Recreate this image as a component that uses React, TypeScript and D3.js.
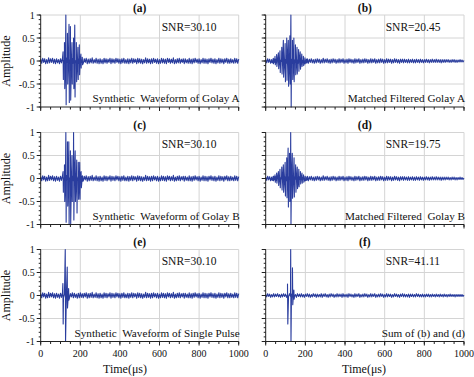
import React from "react";
import * as d3 from "d3";

// ---------- data ----------
const TIME_TICKS = [0, 200, 400, 600, 800, 1000];
const TIME_MINOR = d3.range(0, 1001, 50);
const AMP_TICKS = [1, 0.5, 0, -0.5, -1];
const AMP_MINOR = d3.range(-10, 11).map((v) => v / 10);
const PANEL_LABELS = ["(a)", "(b)", "(c)", "(d)", "(e)", "(f)"];
const SNR_TEXT = ["SNR=30.10", "SNR=20.45", "SNR=30.10", "SNR=19.75", "SNR=30.10", "SNR=41.11"];
const CAPTIONS = [
  "Synthetic  Waveform of Golay A",
  "Matched Filtered Golay A",
  "Synthetic  Waveform of Golay B",
  "Matched Filtered  Golay B",
  "Synthetic  Waveform of Single Pulse",
  "Sum of (b) and (d)",
];

// sample times of the background noise (µs)
const NOISE_TIME = d3.range(0, 1001, 5);

// background noise of the synthetic waveforms (a), (c), (e)
const noiseSynth = [
.04,-.05,.06,-.03,.05,-.06,.03,-.05,.07,-.04,.05,-.03,.06,-.05,.04,-.06,.05,-.04,.03,-.06,
.05,-.04,.06,-.05,.03,-.05,.07,-.04,.05,-.06,.04,-.03,.06,-.05,.05,-.04,.03,-.06,.05,-.05,
.06,-.04,.04,-.05,.05,-.03,.06,-.06,.04,-.05,.05,-.04,.07,-.05,.03,-.04,.06,-.05,.04,-.06,
.05,-.05,.03,-.06,.06,-.04,.05,-.05,.04,-.03,.06,-.06,.05,-.04,.04,-.05,.06,-.03,.05,-.05,
.04,-.06,.05,-.04,.06,-.05,.03,-.05,.05,-.06,.04,-.04,.06,-.05,.05,-.03,.04,-.06,.06,-.04,
.05,-.05,.04,-.06,.03,-.04,.07,-.05,.05,-.04,.04,-.06,.05,-.05,.06,-.03,.04,-.05,.05,-.06,
.03,-.05,.06,-.04,.05,-.05,.04,-.06,.06,-.03,.05,-.05,.04,-.04,.07,-.06,.03,-.05,.05,-.04,
.06,-.05,.04,-.03,.05,-.06,.05,-.04,.03,-.05,.06,-.05,.04,-.06,.05,-.04,.06,-.03,.04,-.05,
.05,-.06,.03,-.04,.06,-.05,.05,-.05,.04,-.06,.05,-.03,.06,-.04,.04,-.05,.05,-.06,.03,-.04,
.06,-.05,.05,-.04,.04,-.06,.05,-.03,.06,-.05,.04,-.05,.05,-.04,.03,-.05,.06,-.04,.05,-.05,
.04];

// background noise of the matched-filter outputs (b), (d)
const noiseMatched = [
.03,-.04,.05,-.03,.04,-.05,.03,-.04,.05,-.03,.04,-.05,.03,-.04,.06,-.03,.04,-.04,.05,-.03,
.04,-.05,.03,-.04,.05,-.03,.04,-.05,.03,-.04,.05,-.04,.03,-.05,.04,-.03,.05,-.04,.04,-.05,
.03,-.04,.05,-.05,.04,-.03,.05,-.04,.03,-.05,.04,-.04,.05,-.03,.04,-.05,.03,-.04,.06,-.04,
.04,-.03,.05,-.04,.03,-.05,.04,-.04,.05,-.03,.04,-.05,.03,-.04,.05,-.04,.04,-.03,.05,-.05,
.03,-.04,.04,-.05,.05,-.03,.04,-.04,.03,-.05,.05,-.04,.04,-.03,.05,-.05,.03,-.04,.04,-.04,
.05,-.03,.04,-.05,.03,-.04,.05,-.04,.04,-.03,.05,-.05,.03,-.04,.04,-.04,.05,-.03,.04,-.05,
.03,-.04,.05,-.04,.04,-.03,.04,-.05,.03,-.04,.05,-.03,.04,-.04,.03,-.05,.04,-.03,.04,-.04,
.04,-.03,.03,-.04,.04,-.04,.03,-.03,.04,-.04,.03,-.04,.04,-.03,.03,-.04,.04,-.03,.03,-.04,
.03,-.03,.04,-.03,.03,-.04,.03,-.03,.04,-.03,.03,-.03,.04,-.03,.03,-.03,.03,-.04,.03,-.03,
.03,-.03,.03,-.02,.03,-.03,.02,-.03,.03,-.02,.03,-.03,.02,-.03,.02,-.02,.03,-.02,.02,-.02,
.01];

// background noise of the summed output (f)
const noiseSum = [
.02,-.03,.04,-.02,.03,-.04,.02,-.03,.04,-.03,.03,-.02,.04,-.03,.02,-.04,.03,-.03,.04,-.02,
.03,-.04,.02,-.03,.04,-.02,.03,-.04,.03,-.03,.02,-.04,.04,-.02,.03,-.03,.04,-.03,.02,-.04,
.03,-.02,.04,-.03,.03,-.04,.02,-.03,.04,-.02,.03,-.04,.03,-.03,.02,-.03,.04,-.04,.03,-.02,
.04,-.03,.02,-.04,.03,-.03,.04,-.02,.03,-.04,.02,-.03,.04,-.03,.03,-.02,.03,-.04,.04,-.03,
.02,-.03,.03,-.04,.04,-.02,.03,-.03,.02,-.04,.04,-.03,.03,-.02,.04,-.04,.02,-.03,.03,-.03,
.04,-.02,.03,-.04,.02,-.03,.04,-.03,.03,-.02,.04,-.04,.02,-.03,.03,-.03,.04,-.02,.03,-.04,
.02,-.03,.04,-.03,.03,-.02,.03,-.04,.02,-.03,.04,-.02,.03,-.03,.02,-.04,.03,-.02,.04,-.03,
.03,-.03,.02,-.03,.03,-.04,.03,-.02,.03,-.03,.02,-.03,.04,-.02,.03,-.03,.02,-.03,.03,-.03,
.02,-.03,.03,-.02,.03,-.03,.02,-.03,.03,-.02,.02,-.03,.03,-.02,.02,-.03,.03,-.02,.02,-.03,
.03,-.02,.02,-.03,.02,-.02,.03,-.02,.02,-.02,.02,-.03,.02,-.02,.02,-.02,.02,-.02,.02,-.02,
.01];

// echo spikes: [time µs, upper swing, lower swing]
const spikesA = [[113,.2,-.4],[120,.4,-.6],[127,1.0,-.95],[135,.6,-.5],[143,.8,-.9],[150,.75,-.85],[158,.4,-.5],[166,.5,-.6],[172,.78,-.78],[180,.4,-.45],[188,.3,-.4],[195,.35,-.3],[203,.15,-.15],[210,.08,-.08]];
const spikesB = [[30,.03,-.03],[38,.06,-.06],[47,.1,-.08],[55,.14,-.12],[64,.18,-.17],[72,.22,-.25],[81,.3,-.28],[89,.45,-.35],[98,.38,-.45],[106,.5,-.42],[114,.45,-.55],[122,.55,-.5],[127,1.0,-1.0],[135,.45,-.4],[142,.5,-.45],[150,.35,-.3],[158,.3,-.28],[166,.25,-.22],[174,.2,-.18],[182,.15,-.12],[190,.1,-.1],[198,.07,-.06],[206,.04,-.04]];
const spikesC = [[113,.15,-.3],[120,.3,-.5],[127,1.0,-.95],[135,.8,-.6],[142,.8,-1.0],[150,.6,-1.0],[158,.5,-.5],[166,1.0,-.9],[174,.6,-.5],[182,.4,-.75],[190,.35,-.45],[197,.35,-.45],[204,.15,-.2],[211,.06,-.06]];
const spikesD = [[30,.03,-.03],[38,.05,-.05],[47,.08,-.08],[55,.12,-.1],[64,.15,-.15],[72,.2,-.2],[81,.25,-.25],[89,.3,-.3],[98,.35,-.38],[106,.45,-.42],[113,.66,-.62],[120,.55,-.5],[126,1.0,-1.0],[134,.55,-.43],[143,.45,-.4],[151,.3,-.3],[159,.25,-.22],[167,.2,-.18],[175,.15,-.12],[183,.12,-.1],[191,.08,-.08],[199,.05,-.05],[207,.03,-.03]];
const spikesE = [[112,.26,-.62],[124,1.0,-1.0],[134,.62,-.27],[141,.15,-.1]];
const spikesF = [[110,.25,-.62],[126,1.0,-1.0],[135,.6,-.2],[142,.12,-.08]];

const NOISES = [noiseSynth, noiseMatched, noiseSynth, noiseMatched, noiseSynth, noiseSum];
const SPIKES = [spikesA, spikesB, spikesC, spikesD, spikesE, spikesF];

// ---------- layout ----------
const W = 474;
const H = 377;
const COLS = [[40.7, 238.7], [265.7, 464]];
const ROW_TOPS = [15, 132.5, 249.5];
const PH = 92;
const LINE_COLOR = "#2a3d9e";
const FONT = "Liberation Serif";

function buildSeries(noise: number[], spikes: number[][]) {
  const pts: [number, number][] = noise.map((v, i) => [NOISE_TIME[i], v] as [number, number]);
  spikes.forEach((s) => {
    pts.push([s[0], s[1]]);
    pts.push([s[0] + 1.5, s[2]]);
  });
  pts.sort((a, b) => a[0] - b[0]);
  return pts;
}

function Panel({ idx }: { idx: number }) {
  const col = idx % 2;
  const row = Math.floor(idx / 2);
  const [x0, x1] = COLS[col];
  const top = ROW_TOPS[row];
  const bottom = top + PH;
  const x = d3.scaleLinear().domain([0, 1000]).range([x0, x1]);
  const y = d3.scaleLinear().domain([-1, 1]).range([bottom, top]);
  const series = buildSeries(NOISES[idx], SPIKES[idx]);
  const line = d3
    .line<[number, number]>()
    .x((d) => x(d[0]))
    .y((d) => y(d[1]));
  const isBottom = row === 2;
  const isLeft = col === 0;
  const cx = (x0 + x1) / 2;
  return (
    <g>
      {TIME_TICKS.filter((t) => t > 0).map((t) => (
        <line key={"gx" + t} x1={x(t)} x2={x(t)} y1={top} y2={bottom} stroke="#d4d4d4" strokeWidth={1} />
      ))}
      {AMP_TICKS.filter((a) => a !== -1).map((a) => (
        <line key={"gy" + a} x1={x0} x2={x1} y1={y(a)} y2={y(a)} stroke="#d4d4d4" strokeWidth={1} />
      ))}
      <path d={line(series) || ""} fill="none" stroke={LINE_COLOR} strokeWidth={1.1} strokeLinejoin="round" />
      <line x1={x0} x2={x0} y1={top} y2={bottom} stroke="#222" strokeWidth={1} />
      <line x1={x0} x2={x1} y1={bottom} y2={bottom} stroke="#222" strokeWidth={1} />
      {AMP_MINOR.map((a) => (
        <line key={"ym" + a} x1={x0 - 2} x2={x0} y1={y(a)} y2={y(a)} stroke="#222" strokeWidth={1} />
      ))}
      {AMP_TICKS.map((a) => (
        <line key={"yt" + a} x1={x0 - 4} x2={x0} y1={y(a)} y2={y(a)} stroke="#222" strokeWidth={1} />
      ))}
      {TIME_MINOR.map((t) => (
        <line key={"xm" + t} x1={x(t)} x2={x(t)} y1={bottom} y2={bottom + 2.5} stroke="#222" strokeWidth={1} />
      ))}
      {TIME_TICKS.map((t) => (
        <line key={"xt" + t} x1={x(t)} x2={x(t)} y1={bottom} y2={bottom + 4} stroke="#222" strokeWidth={1} />
      ))}
      {isLeft &&
        AMP_TICKS.map((a) => (
          <text key={"yl" + a} x={x0 - 6} y={y(a) + 3.5} fontSize={10} textAnchor="end" fontFamily={FONT} fill="#111">
            {a}
          </text>
        ))}
      {isLeft && (
        <text
          transform={`translate(10,${(top + bottom) / 2}) rotate(-90)`}
          fontSize={12}
          textAnchor="middle"
          fontFamily={FONT}
          fill="#111"
        >
          Amplitude
        </text>
      )}
      {isBottom &&
        TIME_TICKS.map((t) => (
          <text key={"xl" + t} x={x(t)} y={bottom + 15.5} fontSize={10} textAnchor="middle" fontFamily={FONT} fill="#111">
            {t}
          </text>
        ))}
      {isBottom && (
        <text x={isLeft ? 125 : 364} y={bottom + 31} fontSize={12} textAnchor="middle" fontFamily={FONT} fill="#111">
          Time(μs)
        </text>
      )}
      <text x={cx} y={top - 3.5} fontSize={11.5} fontWeight="bold" textAnchor="middle" fontFamily={FONT} fill="#111">
        {PANEL_LABELS[idx]}
      </text>
      <text x={isLeft ? 161.7 : 385.7} y={top + 15.5} fontSize={11.5} fontFamily={FONT} fill="#111">
        {SNR_TEXT[idx]}
      </text>
      <text
        x={x1 + 1}
        y={bottom - 5}
        fontSize={11.2}
        textAnchor="end"
        fontFamily={FONT}
        fill="#111"
        style={{ whiteSpace: "pre" }}
      >
        {CAPTIONS[idx]}
      </text>
    </g>
  );
}

export default function App() {
  return (
    <svg width={W} height={H} style={{ position: "absolute", left: 0, top: 0, background: "#fff" }}>
      {PANEL_LABELS.map((_, i) => (
        <Panel key={i} idx={i} />
      ))}
    </svg>
  );
}
